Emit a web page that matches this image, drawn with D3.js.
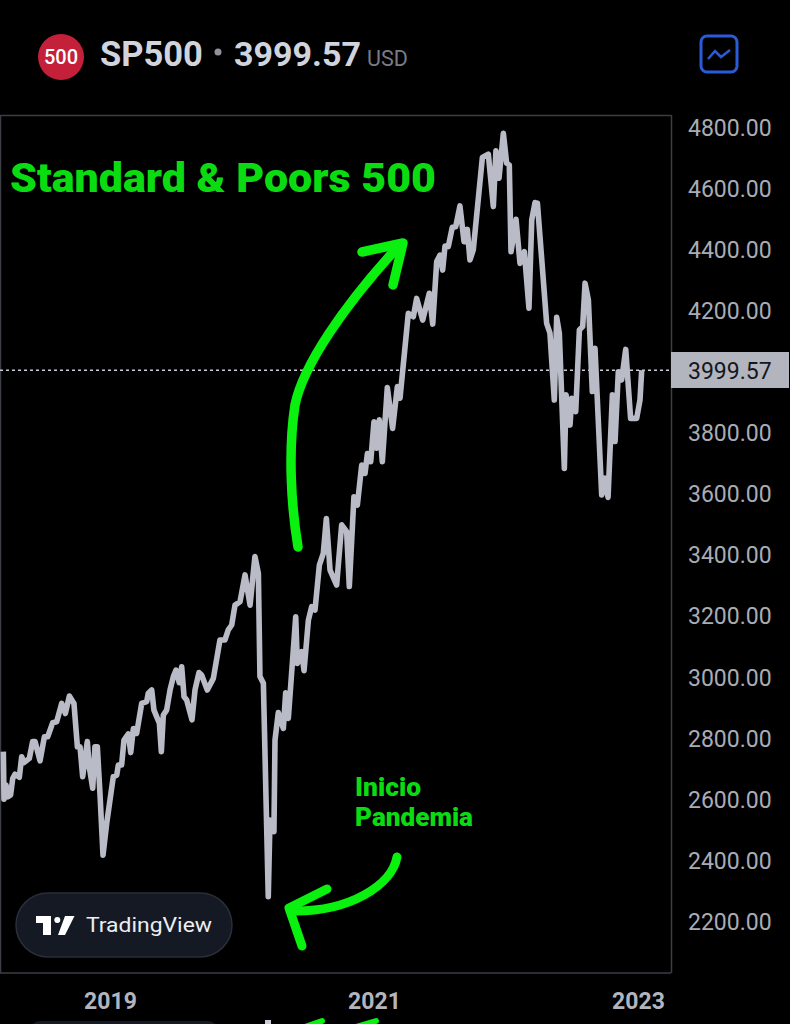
<!DOCTYPE html>
<html>
<head>
<meta charset="utf-8">
<script src="https://cdn.jsdelivr.net/npm/d3@7"></script>
<style>
html,body{margin:0;padding:0;background:#000;overflow:hidden}
svg{display:block}
text{font-family:Roboto,sans-serif}
</style>
</head>
<body>
<script>
// weekly-ish closes
var years = [2018.192,2018.197,2018.212,2018.227,2018.247,2018.263,2018.280,2018.313,2018.331,2018.348,2018.389,2018.414,2018.432,2018.470,2018.503,2018.528,2018.566,2018.596,2018.634,2018.662,2018.692,2018.727,2018.753,2018.773,2018.793,2018.828,2018.843,2018.869,2018.886,2018.904,2018.924,2018.947,2018.975,
2019.025,2019.051,2019.063,2019.088,2019.106,2019.139,2019.157,2019.177,2019.202,2019.240,2019.278,2019.290,2019.316,2019.333,2019.374,2019.389,2019.404,2019.429,2019.455,2019.480,2019.500,2019.525,2019.543,2019.561,2019.581,2019.621,2019.644,2019.674,2019.694,2019.737,2019.783,2019.833,2019.871,2019.896,2019.922,2019.947,2019.985,
2020.023,2020.061,2020.098,2020.124,2020.136,2020.162,2020.199,2020.212,2020.242,2020.250,2020.275,2020.313,2020.331,2020.351,2020.407,2020.419,2020.452,2020.470,2020.503,2020.528,2020.553,2020.586,2020.616,2020.639,2020.667,2020.717,2020.755,2020.793,2020.813,2020.848,2020.874,2020.907,2020.932,2020.950,2020.975,
2021.000,2021.020,2021.040,2021.063,2021.101,2021.141,2021.177,2021.197,2021.260,2021.298,2021.323,2021.369,2021.419,2021.445,2021.475,2021.500,2021.520,2021.538,2021.563,2021.593,2021.619,2021.651,2021.682,2021.707,2021.727,2021.752,2021.821,2021.866,2021.904,2021.924,2021.947,2021.980,
2022.005,2022.025,2022.038,2022.076,2022.106,2022.139,2022.174,2022.195,2022.220,2022.238,2022.308,2022.333,2022.366,2022.384,2022.404,2022.442,2022.455,2022.485,2022.498,2022.528,2022.556,2022.581,2022.599,2022.624,2022.654,2022.674,2022.725,2022.750,2022.773,2022.806,2022.826,2022.851,2022.876,2022.907,2022.944,2022.990,2023.015,2023.028];
var closes = [2750,2594,2641,2602,2608,2662,2676,2666,2733,2714,2728,2783,2783,2720,2799,2799,2845,2848,2908,2875,2932,2908,2766,2766,2668,2783,2700,2630,2766,2766,2613,2411,2515,
2668,2673,2706,2706,2788,2808,2747,2826,2810,2908,2914,2941,2952,2886,2843,2750,2870,2886,2952,2996,3017,2976,3028,2930,2919,2854,2952,3009,3001,2952,2990,3116,3116,3149,3165,3230,3241,
3329,3230,3389,3334,2996,2974,2275,2526,2488,2788,2878,2826,2943,2859,3192,3039,3078,3015,3181,3225,3214,3361,3400,3514,3345,3296,3493,3471,3291,3585,3558,3689,3662,3727,3700,
3831,3744,3837,3700,3943,3809,3946,3908,4186,4175,4235,4164,4252,4151,4356,4377,4328,4407,4405,4468,4470,4538,4421,4461,4361,4394,4697,4708,4536,4719,4629,4776,
4678,4672,4388,4494,4350,4388,4203,4492,4549,4547,4153,4121,3902,4173,4121,3678,3919,3820,3908,3864,4132,4143,4285,4230,3930,4072,3591,3646,3583,3919,3766,3995,3968,4068,3842,3842,3902,3999.57];

var priceTicks = [4800,4600,4400,4200,3800,3600,3400,3200,3000,2800,2600,2400,2200];
var yearTicks = [2019,2021,2023];
var lastPrice = 3999.57;

var W = 790, H = 1024;
var svg = d3.select('body').append('svg').attr('width',W).attr('height',H);

var x = d3.scaleLinear().domain([2019,2023]).range([110,638]);
var y = d3.scaleLinear().domain([2200,4800]).range([919.5,126]);

// header
svg.append('circle').attr('cx',61).attr('cy',57).attr('r',23).attr('fill','#c4203a');
svg.append('text').attr('x',61).attr('y',64).attr('text-anchor','middle').attr('fill','#fff')
  .attr('font-size',20).attr('font-weight',500).text('500');
svg.append('text').attr('x',100).attr('y',66).attr('fill','#d1d4dc').attr('font-size',34.5).attr('font-weight',700).text('SP500');
svg.append('circle').attr('cx',218).attr('cy',52).attr('r',3.5).attr('fill','#8f929b');
svg.append('text').attr('x',234).attr('y',66).attr('fill','#d1d4dc').attr('font-size',34).attr('font-weight',700).text('3999.57');
svg.append('text').attr('x',367).attr('y',66).attr('fill','#787b86').attr('font-size',21.5).text('USD');
svg.append('rect').attr('x',701).attr('y',36).attr('width',36).attr('height',36).attr('rx',6)
  .attr('fill','none').attr('stroke','#2a5bd8').attr('stroke-width',3);
svg.append('path').attr('d','M708 59 L715 51 L721 57 L730 50').attr('fill','none').attr('stroke','#2a5bd8').attr('stroke-width',2.5);

// frame
var frame = '#3c3e46';
svg.append('line').attr('x1',0).attr('x2',671).attr('y1',115.5).attr('y2',115.5).attr('stroke',frame).attr('stroke-width',1.5);
svg.append('line').attr('x1',0.5).attr('x2',0.5).attr('y1',115).attr('y2',973).attr('stroke',frame).attr('stroke-width',1.5);
svg.append('line').attr('x1',0).attr('x2',671).attr('y1',973).attr('y2',973).attr('stroke',frame).attr('stroke-width',1.5);

// axes
var yAxis = d3.axisRight(y).tickValues(priceTicks).tickSize(0).tickPadding(0).tickFormat(d3.format('.2f'));
var gy = svg.append('g').attr('transform','translate(671,0)').call(yAxis);
gy.select('.domain').attr('stroke',frame).attr('stroke-width',1.5).attr('d','M0.5,115V973');
gy.selectAll('text').attr('x',17).attr('dy','0.42em').attr('fill','#a9acb5').attr('font-size',23);

var xAxis = d3.axisBottom(x).tickValues(yearTicks).tickSize(0).tickFormat(d3.format('d'));
var gx = svg.append('g').attr('transform','translate(0,973)').call(xAxis);
gx.select('.domain').remove();
gx.selectAll('text').attr('y',36).attr('dy',0).attr('fill','#b2b5be').attr('font-size',23).attr('font-weight',700);

// last price guide + tag
svg.append('line').attr('x1',0).attr('x2',671).attr('y1',y(lastPrice)).attr('y2',y(lastPrice))
  .attr('stroke','#c9ccd4').attr('stroke-width',1.4).attr('stroke-dasharray','3 3');
svg.append('rect').attr('x',671).attr('y',352).attr('width',118).attr('height',36).attr('fill','#b2b5be');
svg.append('text').attr('x',688).attr('y',379).attr('fill','#131722').attr('font-size',23).text('3999.57');

// price line
var line = d3.line().x(function(d,i){return x(years[i])}).y(function(d){return y(d)});
svg.append('path').datum(closes).attr('d',line).attr('fill','none')
  .attr('stroke','#b9bbc6').attr('stroke-width',5.6).attr('stroke-linejoin','round');

// TradingView badge
svg.append('rect').attr('x',16).attr('y',893).attr('width',216).attr('height',64).attr('rx',32)
  .attr('fill','#151924').attr('stroke','#2a2e39').attr('stroke-width',1.5);
svg.append('path').attr('fill','#fff')
  .attr('d','M36 916 H51 V935 H43 V923 H36 Z M65 916 H74.5 L65 935 H58 Z');
svg.append('circle').attr('cx',57.3).attr('cy',920).attr('r',3).attr('fill','#fff');
svg.append('text').attr('x',86).attr('y',932).attr('fill','#eceef2').attr('font-size',21).attr('font-family','Inter')
  .attr('textLength',126).attr('lengthAdjust','spacingAndGlyphs').text('TradingView');

// hand drawn notes
var bright = '#0af00f';
function stroke(d,w){
  svg.append('path').attr('d',d).attr('fill','none').attr('stroke',bright).attr('stroke-width',w)
    .attr('stroke-linecap','round').attr('stroke-linejoin','round');
}
svg.append('text').attr('x',10).attr('y',192).attr('fill','#0bdc12').attr('font-size',41).attr('font-weight',900)
  .attr('textLength',426).attr('lengthAdjust','spacingAndGlyphs').text('Standard & Poors 500');
stroke('M298 547 C291 505 288 450 295 405 C303 365 345 305 395 250',9.5);
stroke('M362 252 L403 243 L393 285',9.5);
svg.append('text').attr('x',355).attr('y',796).attr('fill','#0bdc12').attr('font-size',26).attr('font-weight',900)
  .attr('textLength',66).attr('lengthAdjust','spacingAndGlyphs').text('Inicio');
svg.append('text').attr('x',355).attr('y',826).attr('fill','#0bdc12').attr('font-size',26).attr('font-weight',900)
  .attr('textLength',118).attr('lengthAdjust','spacingAndGlyphs').text('Pandemia');
stroke('M397 857 C392 885 350 912 292 911',9);
stroke('M327 889 L289 908 L302 946',9);

// cut off row below the axis
svg.append('rect').attr('x',30).attr('y',1021).attr('width',188).attr('height',20).attr('rx',10).attr('fill','#151924');
svg.append('rect').attr('x',265).attr('y',1020).attr('width',6).attr('height',4).attr('fill','#c9ccd4');
stroke('M305 1027 L322 1021',6);
stroke('M356 1027 L376 1021',6);
</script>
</body>
</html>
